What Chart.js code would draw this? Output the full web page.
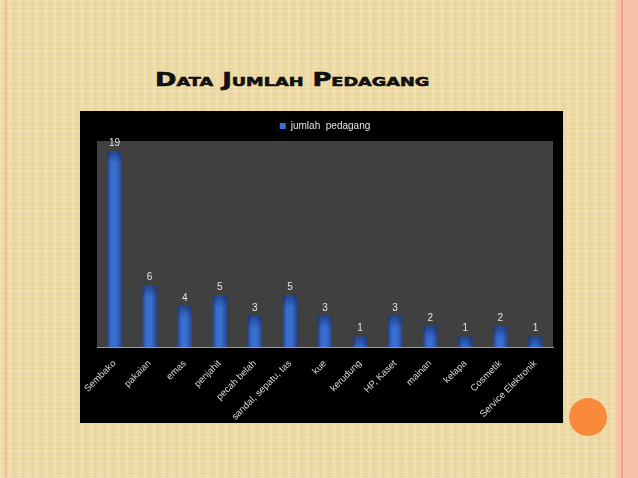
<!DOCTYPE html>
<html>
<head>
<meta charset="utf-8">
<script src="https://cdn.jsdelivr.net/npm/chart.js@4.4.0/dist/chart.umd.min.js"></script>
<style>
  body {
    margin: 0;
    width: 638px;
    height: 478px;
    overflow: hidden;
    position: relative;
    background-color: #eddaa5;
    background-image:
      repeating-linear-gradient(90deg, rgba(255,255,255,0.14) 0 2px, rgba(0,0,0,0) 2px 5px, rgba(170,130,50,0.09) 5px 6px, rgba(0,0,0,0) 6px 9px),
      repeating-linear-gradient(0deg, rgba(255,255,255,0.10) 0 1px, rgba(0,0,0,0) 1px 4px, rgba(170,130,50,0.07) 4px 5px);
  }
  .line-left { position: absolute; left: 5px; top: 0; width: 2px; height: 478px; background: #f2b9a0; }
  .band-right { position: absolute; left: 616px; top: 0; width: 22px; height: 478px; background: #f8c2aa; }
  .band-line { position: absolute; left: 621px; top: 0; width: 2px; height: 478px; background: #eda386; }
  .dot { position: absolute; left: 569px; top: 398px; width: 38px; height: 38px; border-radius: 50%; background: #f98a3b; }
  h1 {
    position: absolute;
    left: 155px;
    top: 68px;
    margin: 0;
    font-family: "DejaVu Sans", sans-serif;
    font-weight: bold;
    font-size: 19px;
    font-variant: small-caps;
    color: #111;
    -webkit-text-stroke: 0.6px #111;
    white-space: nowrap;
    transform: scaleX(1.36);
    transform-origin: left top;
  }
  .box { position: absolute; left: 80px; top: 111px; width: 483px; height: 312px; background: #000; }
</style>
</head>
<body>
<div class="line-left"></div>
<div class="band-right"></div>
<div class="band-line"></div>
<h1>Data Jumlah Pedagang</h1>
<div class="box"><canvas id="chart" width="483" height="312"></canvas></div>
<div class="dot"></div>
<script>
const categories = ["Sembako", "pakaian", "emas", "penjahit", "pecah belah", "sandal, sepatu, tas",
    "kue", "kerudung", "HP, Kaset", "mainan", "kelapa", "Cosmetik", "Service Elektronik"];
const pedagang = [19, 6, 4, 5, 3, 5, 3, 1, 3, 2, 1, 2, 1];
const seriesName = "jumlah  pedagang";

const ctx = document.getElementById("chart");

// dark gray plot area behind the bars
const plotBackground = {
    id: "plotBackground",
    beforeDraw(chart) {
        const { ctx, chartArea } = chart;
        ctx.save();
        ctx.fillStyle = "#404040";
        ctx.fillRect(chartArea.left, chartArea.top, chartArea.right - chartArea.left, chartArea.bottom - chartArea.top);
        ctx.restore();
    },
};

// shading on the bars plus the value above each one
const barDecor = {
    id: "barDecor",
    afterDatasetsDraw(chart) {
        const { ctx } = chart;
        const meta = chart.getDatasetMeta(0);
        ctx.save();
        meta.data.forEach((bar, i) => {
            const { x, y, base, width } = bar.getProps(["x", "y", "base", "width"], true);
            const left = x - width / 2;
            const g = ctx.createLinearGradient(left, 0, left + width, 0);
            g.addColorStop(0, "rgba(10,25,70,0.5)");
            g.addColorStop(0.25, "rgba(10,25,70,0.05)");
            g.addColorStop(0.6, "rgba(10,25,70,0)");
            g.addColorStop(1, "rgba(10,25,70,0.45)");
            ctx.fillStyle = g;
            ctx.fillRect(left, y, width, base - y);
            const v = ctx.createLinearGradient(0, y, 0, y + 12);
            v.addColorStop(0, "rgba(15,30,80,0.5)");
            v.addColorStop(1, "rgba(15,30,80,0)");
            ctx.fillStyle = v;
            ctx.fillRect(left, y, width, Math.min(12, base - y));

            ctx.fillStyle = "#e4e4e4";
            ctx.font = '10px "Liberation Sans", Arial, sans-serif';
            ctx.textAlign = "center";
            ctx.textBaseline = "bottom";
            ctx.fillText(pedagang[i], x, y - 3);
        });
        ctx.restore();
    },
};

new Chart(ctx, {
    type: "bar",
    data: {
        labels: categories,
        datasets: [
            {
                label: seriesName,
                data: pedagang,
                backgroundColor: "#3a6fd2",
                borderWidth: 0,
                categoryPercentage: 1,
                barPercentage: 0.4,
            },
        ],
    },
    options: {
        responsive: false,
        animation: false,
        layout: { padding: { left: 17, right: 10, top: 0, bottom: 0 } },
        plugins: {
            legend: {
                position: "top",
                labels: {
                    color: "#e4e4e4",
                    font: { size: 10, family: '"Liberation Sans", Arial, sans-serif' },
                    boxWidth: 6,
                    boxHeight: 6,
                    padding: 10,
                    generateLabels(chart) {
                        const items = Chart.defaults.plugins.legend.labels.generateLabels(chart);
                        items.forEach((it) => {
                            it.fillStyle = "#3a6fd2";
                            it.strokeStyle = "#3a6fd2";
                            it.lineWidth = 0;
                        });
                        return items;
                    },
                },
            },
            tooltip: { enabled: false },
        },
        scales: {
            x: {
                grid: { display: false },
                border: { display: true, color: "#9a9a9a", width: 1 },
                ticks: {
                    color: "#d8d8d8",
                    font: { size: 9.5, family: '"Liberation Sans", Arial, sans-serif' },
                    maxRotation: 45,
                    minRotation: 45,
                    autoSkip: false,
                    padding: 3,
                },
                afterFit(scale) {
                    scale.height = 76;
                },
            },
            y: {
                display: false,
                min: 0,
                max: 20,
            },
        },
    },
    plugins: [plotBackground, barDecor],
});
</script>
</body>
</html>
